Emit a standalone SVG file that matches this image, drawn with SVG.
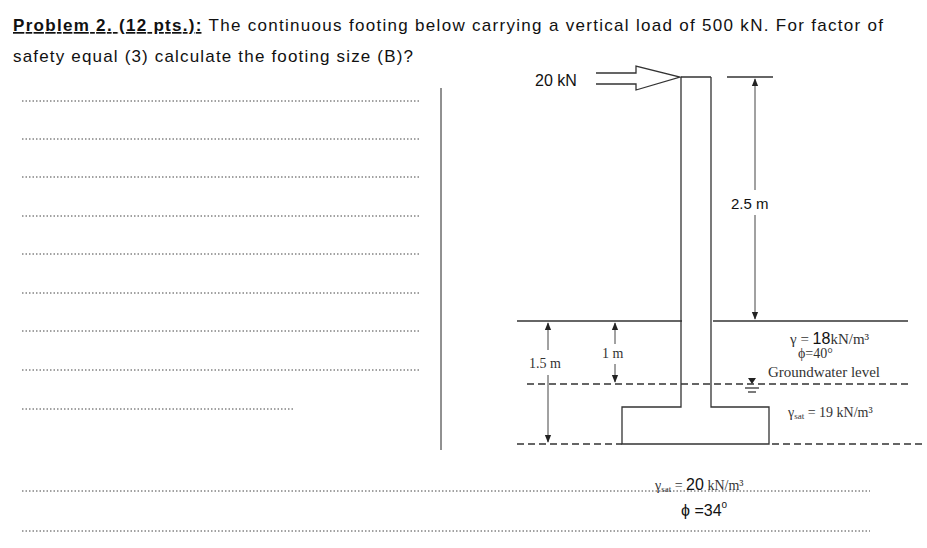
<svg xmlns="http://www.w3.org/2000/svg" width="927" height="548" viewBox="0 0 927 548">
<style>
.t{font-family:"Liberation Sans",sans-serif;fill:#111}
.s{font-family:"Liberation Serif",serif;fill:#333}
.dot{stroke:#444;stroke-width:1;stroke-dasharray:1.5 2}
.ln{stroke:#333;stroke-width:1.3;fill:none}
.dim{stroke:#444;stroke-width:1;fill:none}
.dash{stroke:#333;stroke-width:1.3;stroke-dasharray:7 4}
</style>
<defs>
<marker id="a" viewBox="0 0 10 10" refX="9" refY="5" markerWidth="8" markerHeight="8" orient="auto-start-reverse"><path d="M0,1 L10,5 L0,9 z" fill="#222"/></marker>
</defs>
<rect width="927" height="548" fill="#fff"/>
<text class="t" x="13" y="31" font-size="17" textLength="870" lengthAdjust="spacing"><tspan font-weight="bold" text-decoration="underline">Problem 2. (12 pts.):</tspan> The continuous footing below carrying a vertical load of 500 kN. For factor of</text>
<text class="t" x="13" y="62" font-size="17" textLength="400" lengthAdjust="spacing">safety equal (3) calculate the footing size (B)?</text>
<g id="answer-lines">
<line class="dot" x1="22" y1="101" x2="420" y2="101"/>
<line class="dot" x1="22" y1="139" x2="420" y2="139"/>
<line class="dot" x1="22" y1="177" x2="420" y2="177"/>
<line class="dot" x1="22" y1="216" x2="420" y2="216"/>
<line class="dot" x1="22" y1="254" x2="420" y2="254"/>
<line class="dot" x1="22" y1="293" x2="420" y2="293"/>
<line class="dot" x1="22" y1="331" x2="420" y2="331"/>
<line class="dot" x1="22" y1="370" x2="420" y2="370"/>
<line class="dot" x1="22" y1="409" x2="295" y2="409"/>
<line class="dot" x1="22" y1="491" x2="870" y2="491"/>
<line class="dot" x1="22" y1="531" x2="870" y2="531"/>
<line stroke="#222" stroke-width="1" x1="441" y1="88" x2="441" y2="450"/>
</g>
<g id="footing">
<path class="ln" d="M681,77 L711,77 M681,77 L681,407 L622,407 L622,444 L769,444 L769,407 L711,407 L711,77"/>
</g>
<g id="soil">
<line class="ln" x1="517" y1="321" x2="682" y2="321"/>
<line class="ln" x1="713" y1="321" x2="908" y2="321"/>
<line class="dash" x1="527" y1="384" x2="908" y2="384"/>
<line class="dash" x1="517" y1="444" x2="622" y2="444"/>
<line class="dash" x1="772" y1="444" x2="922" y2="444"/>
<path d="M752,384 l-4,-6 h8 z" fill="#222"/>
<line class="ln" x1="745" y1="388" x2="759" y2="388"/>
<line class="ln" x1="748" y1="392" x2="756" y2="392"/>
</g>
<g id="load">
<path class="ln" d="M596,73 H636 V66 L680,77 L636,90 V84 H596"/>
<text class="t" x="535" y="86" font-size="16">20 kN</text>
</g>
<g id="connectors">
<line class="ln" x1="727" y1="77" x2="773" y2="77"/>
<line class="dim" x1="755" y1="79" x2="755" y2="190" marker-start="url(#a)"/>
<line class="dim" x1="755" y1="215" x2="755" y2="319" marker-end="url(#a)"/>
<line class="dim" x1="548" y1="323" x2="548" y2="350" marker-start="url(#a)"/>
<line class="dim" x1="548" y1="375" x2="548" y2="442" marker-end="url(#a)"/>
<line class="dim" x1="615" y1="323" x2="615" y2="344" marker-start="url(#a)"/>
<line class="dim" x1="615" y1="364" x2="615" y2="382" marker-end="url(#a)"/>
</g>
<g id="labels">
<text class="t" x="731" y="209" font-size="15">2.5 m</text>
<text class="s" x="529" y="368" font-size="14">1.5 m</text>
<text class="s" x="602" y="358" font-size="14">1 m</text>
<text class="s" x="790" y="344" font-size="15">γ = <tspan class="t" font-size="16" fill="#111">18</tspan>kN/m³</text>
<text class="s" x="798" y="358" font-size="14">ϕ=40°</text>
<text class="s" x="768" y="377" font-size="15">Groundwater level</text>
<text class="s" x="788" y="417" font-size="14">γ<tspan font-size="9" dy="2">sat</tspan><tspan dy="-2"> = 19   kN/m³</tspan></text>
<text class="s" x="655" y="490" font-size="14">γ<tspan font-size="9" dy="2">sat</tspan><tspan dy="-2"> = </tspan><tspan class="t" font-size="16" fill="#111">20</tspan> kN/m³</text>
<text class="t" x="681" y="516" font-size="16">ϕ =34<tspan font-size="10" dy="-8">o</tspan></text>
</g>
</svg>
